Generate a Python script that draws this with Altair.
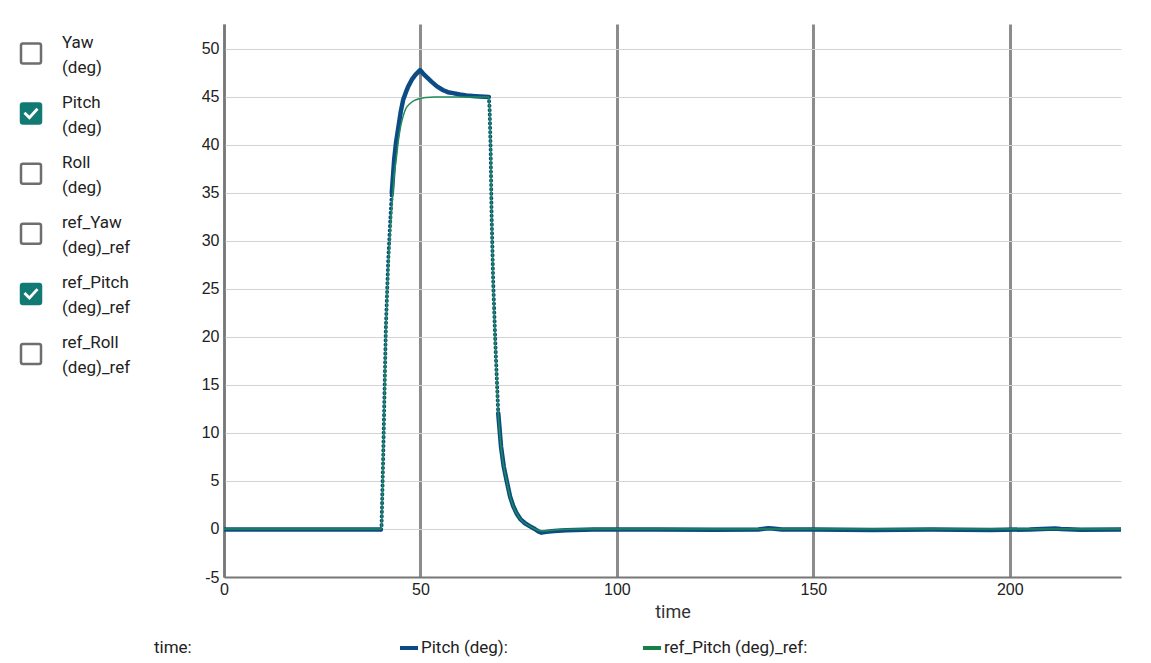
import altair as alt
import pandas as pd

# ---------------- data ----------------
pitch_time = [0, 10, 20, 30, 39.9, 40.1, 40.5, 40.85, 41.2, 41.8, 42.3, 42.7, 43.3, 43.8, 44.4,
              45.0, 45.6, 46.3, 46.9, 47.8, 48.7, 49.9, 51.0, 52.8, 54.2,
              55.8, 57.0, 58.3, 60.0, 61.7, 64.0, 67.4, 67.6, 67.85, 68.1,
              68.5, 69.1, 69.8, 70.5, 71.2, 71.9, 72.8, 73.6, 74.5, 75.5,
              76.6, 77.8, 79.1, 80.0, 80.8, 82.0, 84.0, 87.2, 94.0, 110,
              125, 136, 138.5, 139.5, 142, 150, 165, 180, 195, 205,
              211.5, 213, 218, 228.5]
pitch_deg = [-0.05, -0.05, -0.05, -0.05, -0.05, 0.3, 7.2, 14.2, 21.0, 28.0, 32.0, 35.0, 38.4, 40.3, 41.9,
             43.5, 44.7, 45.5, 46.1, 46.8, 47.3, 47.8, 47.3, 46.6, 46.1,
             45.7, 45.5, 45.4, 45.25, 45.15, 45.08, 45.0, 43.8, 39.8, 32.9,
             25.9, 19.0, 12.05, 8.6, 6.5, 5.1, 3.4, 2.4, 1.6, 1.0,
             0.6, 0.3, 0.0, -0.25, -0.38, -0.3, -0.2, -0.12, -0.05, -0.05,
             -0.08, -0.05, 0.08, 0.04, -0.05, -0.05, -0.1, -0.05, -0.1, -0.05,
             0.05, 0.0, -0.08, -0.05]

ref_time = [0, 39.9, 40.1, 40.5, 40.85, 41.2, 41.8, 42.3, 42.7, 43.0,
            43.3, 43.8, 44.4, 44.95, 45.6, 46.3, 47.3, 48.5, 49.9, 51.5,
            53.5, 56.0, 67.4, 67.6, 67.85, 68.1, 68.5, 69.1, 69.8, 70.5,
            71.2, 71.9, 72.8, 73.6, 74.5, 75.5, 76.6, 77.8, 79.1, 80.8,
            84.0, 90.0, 228.5]
ref_deg = [0, 0, 0.3, 7.0, 13.8, 20.3, 27.0, 31.0, 33.5, 35.0,
           36.8, 38.4, 40.5, 41.9, 43.0, 43.8, 44.3, 44.65, 44.85, 44.95,
           45.0, 45.0, 45.0, 43.8, 39.8, 32.9, 25.9, 19.0, 12.05, 8.6,
           6.5, 5.1, 3.4, 2.4, 1.6, 1.0, 0.6, 0.3, 0.0, -0.2,
           -0.1, 0.0, 0.0]

series_labels = ["Yaw\n(deg)", "Pitch\n(deg)", "Roll\n(deg)",
                 "ref_Yaw\n(deg)_ref", "ref_Pitch\n(deg)_ref", "ref_Roll\n(deg)_ref"]
series_checked = [False, True, False, False, True, False]

x_ticks = [0, 50, 100, 150, 200]
y_ticks = [-5, 0, 5, 10, 15, 20, 25, 30, 35, 40, 45, 50]

bottom_labels = ["time:", "Pitch (deg):", "ref_Pitch (deg)_ref:"]

# ---------------- styling ----------------
BLUE = "#0b4c85"
GREEN = "#1f8b5a"
TEAL = "#107a73"
W, H = 897, 553

pitch_df = pd.DataFrame({"t": pitch_time, "v": pitch_deg})
ref_df = pd.DataFrame({"t": ref_time, "v": ref_deg})
leg_df = pd.DataFrame({"row": list(range(len(series_labels))),
                       "label": series_labels,
                       "checked": series_checked})

xs = alt.Scale(domain=[0, 228.3], nice=False, zero=False)
ys = alt.Scale(domain=[-5, 52.6], nice=False, zero=False)

x_axis = alt.Axis(values=x_ticks, title="time", grid=True, gridColor="#8c8c8c", gridWidth=3,
                  domainColor="#777777", domainWidth=2, ticks=False,
                  labelFont="Liberation Sans", labelFontSize=16, labelColor="#222222",
                  labelPadding=4, labelFlush=False, labelExpr="toString(datum.value)",
                  titleFont="Roboto", titleFontSize=18, titleFontWeight="normal",
                  titleColor="#333333", titlePadding=6)
y_axis = alt.Axis(values=y_ticks, title=None, grid=True, gridColor="#d3d3d3", gridWidth=1,
                  domainColor="#777777", domainWidth=2, ticks=False,
                  labelFont="Liberation Sans", labelFontSize=16, labelColor="#222222",
                  labelPadding=5, labelFlush=False, labelExpr="toString(datum.value)")

# solid part of the Pitch trace (flat / slow sections)
pitch_solid = alt.Chart(pitch_df).transform_filter(
    "datum.t <= 39.95 || (datum.t >= 42.7 && datum.t <= 67.4) || datum.t >= 69.8"
).transform_calculate(
    seg="datum.t <= 39.95 ? 0 : (datum.t <= 67.4 ? 1 : 2)"
).mark_line(color=BLUE, strokeWidth=4.5, strokeCap="round", strokeJoin="round", clip=True).encode(
    x=alt.X("t:Q", scale=xs, axis=x_axis),
    y=alt.Y("v:Q", scale=ys, axis=y_axis),
    detail="seg:N",
)

# steep part of the Pitch trace: sparse samples appear as dots
pitch_dots = alt.Chart(pitch_df).transform_filter(
    "(datum.t >= 39.9 && datum.t <= 42.7) || (datum.t >= 67.4 && datum.t <= 69.8)"
).transform_calculate(
    seg="datum.t < 55 ? 0 : 1"
).mark_line(color=BLUE, strokeWidth=4, strokeCap="round", strokeDash=[0.1, 4.3], clip=True).encode(
    x=alt.X("t:Q", scale=xs),
    y=alt.Y("v:Q", scale=ys),
    detail="seg:N",
)

ref_line = alt.Chart(ref_df).mark_line(color=GREEN, strokeWidth=1.5, interpolate="monotone",
                                       clip=True).encode(
    x=alt.X("t:Q", scale=xs),
    y=alt.Y("v:Q", scale=ys),
)

main = alt.layer(pitch_solid, pitch_dots, ref_line)

# ---------------- left series list (checkboxes) ----------------
rowscale = alt.Scale(domain=[0, 5], range=[29.5, 330], nice=False, zero=False)
box_path = ("M-0.8,-1 H0.8 Q1,-1 1,-0.8 V0.8 Q1,1 0.8,1 H-0.8 Q-1,1 -1,0.8 "
            "V-0.8 Q-1,-1 -0.8,-1 Z")
check_path = "M-0.62,0.02 L-0.18,0.45 L0.62,-0.42"

boxes = alt.Chart(leg_df).mark_point(shape=box_path, size=400, strokeWidth=2.5, filled=False,
                                     opacity=1).encode(
    x=alt.value(-193),
    y=alt.Y("row:Q", scale=rowscale, axis=None),
    fill=alt.condition("datum.checked", alt.value(TEAL), alt.value("white")),
    stroke=alt.condition("datum.checked", alt.value(TEAL), alt.value("#6e6e6e")),
)
checks = alt.Chart(leg_df).transform_filter("datum.checked").mark_point(
    shape=check_path, size=320, strokeWidth=2.8, filled=False, color="white", opacity=1,
    strokeCap="square", strokeJoin="miter"
).encode(
    x=alt.value(-193),
    y=alt.Y("row:Q", scale=rowscale, axis=None),
)
labels = alt.Chart(leg_df).mark_text(align="left", baseline="middle", font="Roboto", fontSize=17,
                                     color="#222222", lineBreak="\n", lineHeight=25, dy=-11).encode(
    x=alt.value(-162),
    y=alt.Y("row:Q", scale=rowscale, axis=None),
    text="label:N",
)
legend = alt.layer(boxes, checks, labels)

# ---------------- bottom value legend ----------------
bdf = pd.DataFrame({"label": bottom_labels})
btxt_style = dict(align="left", baseline="middle", font="Roboto", fontSize=17, color="#222222")
b0 = alt.Chart(bdf).transform_filter(alt.datum.label == bottom_labels[0]).mark_text(**btxt_style).encode(
    x=alt.value(-70), y=alt.value(624), text="label:N")
b1 = alt.Chart(bdf).transform_filter(alt.datum.label == bottom_labels[1]).mark_text(**btxt_style).encode(
    x=alt.value(197), y=alt.value(624), text="label:N")
b2 = alt.Chart(bdf).transform_filter(alt.datum.label == bottom_labels[2]).mark_text(**btxt_style).encode(
    x=alt.value(440), y=alt.value(624), text="label:N")
s1 = alt.Chart(bdf).transform_filter(alt.datum.label == bottom_labels[1]).mark_rule(
    color=BLUE, strokeWidth=4).encode(x=alt.value(176), x2=alt.value(194), y=alt.value(624))
s2 = alt.Chart(bdf).transform_filter(alt.datum.label == bottom_labels[2]).mark_rule(
    color="#148048", strokeWidth=4).encode(x=alt.value(419), x2=alt.value(437), y=alt.value(624))

chart = alt.layer(main, legend, b0, b1, b2, s1, s2).resolve_scale(y="independent").properties(
    width=W, height=H,
    autosize=alt.AutoSizeParams(type="none"),
    padding={"left": 216, "top": 16, "right": 22, "bottom": 80},
).configure_view(stroke=None)

chart.save("out.html", embed_options={"renderer": "svg", "actions": False})
